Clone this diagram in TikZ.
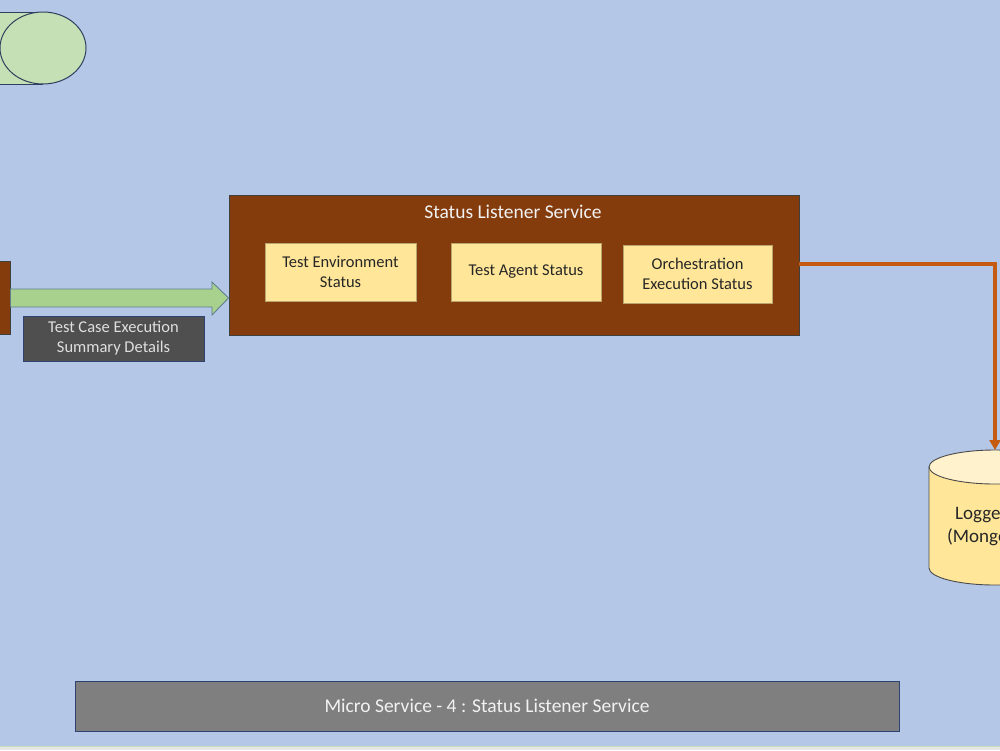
\documentclass[tikz,border=0pt]{standalone}
\usepackage{fontspec}
\setmainfont{Carlito}
\usetikzlibrary{arrows.meta,calc}
\definecolor{bgblue}{HTML}{B4C7E7}
\definecolor{stripgray}{HTML}{E4E7E4}
\definecolor{stripline}{HTML}{C5DDB8}
\definecolor{brownfill}{HTML}{843C0C}
\definecolor{brownborder}{HTML}{3F3F3F}
\definecolor{innerfill}{HTML}{FFE699}
\definecolor{innerborder}{HTML}{BBA56E}
\definecolor{greenfill}{HTML}{A9D18E}
\definecolor{greenborder}{HTML}{5F7F8F}
\definecolor{lightgreen}{HTML}{C5E0B4}
\definecolor{navyline}{HTML}{2F3F5F}
\definecolor{orangeline}{HTML}{C55A11}
\definecolor{darklabel}{HTML}{4F4F4F}
\definecolor{barfill}{HTML}{7F7F7F}
\definecolor{barborder}{HTML}{2F4370}
\definecolor{dbbody}{HTML}{FFE699}
\definecolor{dbtopfill}{HTML}{FFF2CC}
\definecolor{dbborder}{HTML}{4A4A4A}
\definecolor{lighttext}{HTML}{F2F2F2}
\tikzset{
  brownbox/.style={draw=brownborder, fill=brownfill, line width=0.9pt, inner sep=0pt},
  innerbox/.style={draw=innerborder, fill=innerfill, line width=0.9pt, inner sep=0pt,
    align=center, font=\fontsize{16.5}{20}\selectfont, text=black!85},
  titletext/.style={text=lighttext, font=\fontsize{19.5}{23}\selectfont, inner sep=0pt},
  fatarrow/.style={draw=greenborder, fill=greenfill, line width=0.9pt, line join=miter},
  darkbox/.style={draw=barborder, fill=darklabel, line width=0.9pt, inner sep=0pt,
    align=center, text=lighttext!92!black, font=\fontsize{16.5}{20}\selectfont},
  graybar/.style={draw=barborder, fill=barfill, line width=1pt, inner sep=0pt,
    text=lighttext, font=\fontsize{19.5}{23}\selectfont},
  orangeconn/.style={draw=orangeline, line width=3.3pt, -{Triangle[width=11pt,length=10pt]}},
  dbtext/.style={text=black!85, font=\fontsize{19}{22}\selectfont, inner sep=0pt, anchor=west}
}
\begin{document}
\begin{tikzpicture}[x=1pt,y=-1pt]
\useasboundingbox (0,0) rectangle (1000,750);
\clip (0,0) rectangle (1000,750);
\fill[bgblue] (0,0) rectangle (1000,750);
\fill[stripgray] (0,746) rectangle (1000,750);
\draw[stripline, line width=1pt] (0,746) -- (1000,746);

% horizontal cylinder, top left (cut off)
\fill[lightgreen] (-30,12) rectangle (43,84);
\draw[navyline, line width=1pt] (-30,12) -- (43,12) (-30,84) -- (43,84);
\draw[fill=lightgreen, draw=navyline, line width=1pt] (43,48) ellipse [x radius=43, y radius=36];

% left source box (cut off)
\node[brownbox, minimum width=40, minimum height=73, anchor=north east] (src) at (10.5,261) {};

% main service box
\node[brownbox, minimum width=570, minimum height=140] (svc) at (514,265) {};
\node[titletext] (svctitle) at (513,212) {Status Listener Service};
\node[innerbox, minimum width=151, minimum height=58] (envst) at (340.5,272) {Test Environment\\Status};
\node[innerbox, minimum width=150, minimum height=58] (agentst) at (526,272) {Test Agent Status};
\node[innerbox, minimum width=149, minimum height=58] (orchst) at (697.5,274) {Orchestration\\Execution Status};

% green fat arrow from source to service
\draw[fatarrow] (src.east |- 0,289) -- (212,289) -- (212,282) -- (svc.west |- 0,298)
  -- (212,315) -- (212,307) -- (src.east |- 0,307) -- cycle;
\node[darkbox, minimum width=181, minimum height=45] (lbl) at (113.5,338.5) {Test Case Execution\\Summary Details};

% database cylinder (cut off)
\fill[dbbody, draw=dbborder, line width=0.9pt] (929,467) -- (929,568)
  arc[start angle=180, end angle=0, x radius=66, y radius=17] -- (1061,467) -- cycle;
\draw[fill=dbtopfill, draw=dbborder, line width=0.9pt] (995,467) ellipse [x radius=66, y radius=17];
\coordinate (dbtop) at (995,450);
\node[dbtext] (dbl1) at (955,515) {Logger};
\node[dbtext] (dbl2) at (947,537) {(MongoDB)};

% orange connector
\draw[orangeconn] (svc.east |- 0,264) -- (995,264) -- (dbtop);

% bottom bar
\node[graybar, minimum width=824, minimum height=50] (bar) at (487,706) {Micro Service - 4 : Status Listener Service};
\end{tikzpicture}
\end{document}
